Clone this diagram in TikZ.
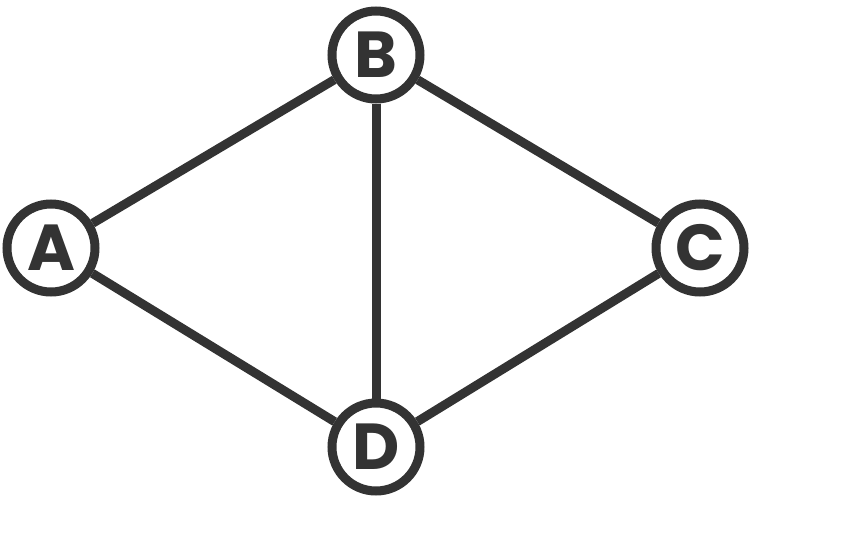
\documentclass[tikz,border=0pt]{standalone}
\usepackage{fontspec}
\setmainfont{Poppins}
\usepackage{tikz}
\usetikzlibrary{positioning}
\definecolor{darkline}{HTML}{333333}

\begin{document}
\begin{tikzpicture}[x=0.02cm,y=-0.02cm,
    vertex/.style={circle,draw=darkline,fill=white,line width=9*0.02cm,
      minimum size=88*0.02cm,inner sep=0pt,text=darkline,
      font=\fontsize{37}{37}\selectfont\bfseries},
    edge/.style={draw=darkline,line width=9*0.02cm}]
    \useasboundingbox (0,0) rectangle (866,548);
    \node [vertex] (A) at (51,248) {A};
    \node [vertex] (B) at (376,55) {B};
    \node [vertex] (C) at (700,248) {C};
    \node [vertex] (D) at (376,447) {D};

    \draw [edge] (A) -- (B);
    \draw [edge] (A) -- (D);
    \draw [edge] (B) -- (C);
    \draw [edge] (B) -- (D);
    \draw [edge] (D) -- (C);
\end{tikzpicture}
\end{document}
